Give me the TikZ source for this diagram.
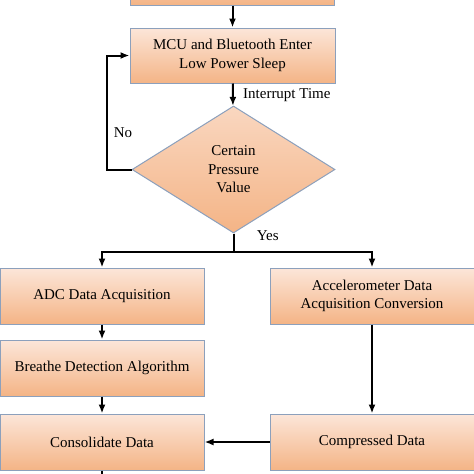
\documentclass[tikz,border=0pt]{standalone}
\usepackage{fontspec}
\setmainfont{Liberation Serif}
\usepackage{tikz}
\usetikzlibrary{arrows.meta, positioning, shapes.geometric}

\definecolor{boxtop}{RGB}{252,230,217}
\definecolor{boxbot}{RGB}{244,180,134}
\definecolor{boxline}{RGB}{140,160,188}

\begin{document}
\begin{tikzpicture}[
		x=1pt, y=1pt,
		font=\fontsize{15}{18.5}\selectfont,
		process/.style={
			rectangle,
			draw=boxline,
			line width=1pt,
			top color=boxtop,
			bottom color=boxbot,
			minimum width=204pt,
			minimum height=56pt,
			align=center
		},
		decision/.style={
			diamond,
			draw=boxline,
			line width=1pt,
			top color=boxtop!70!boxbot,
			bottom color=boxbot,
			minimum width=203pt,
			minimum height=127pt,
			inner sep=0pt,
			align=center
		},
		arrow/.style={
			line width=2pt,
			-{Latex[length=9pt,width=7pt]},
		}
	]
	\useasboundingbox (0,0) rectangle (474,-474);
	
	\node[process, minimum width=205pt, minimum height=55pt] (mcu) at (232.5,-55.5) {MCU and Bluetooth Enter\\Low Power Sleep};
	\node[process, above=22pt of mcu] (start) {};
	\node[decision, below=22pt of mcu, xshift=1pt] (check) {Certain\\Pressure\\Value};
	
	\node[process, below=34pt of check, xshift=-131.5pt] (adc) {ADC Data Acquisition};
	\node[process, right=65pt of adc] (accel) {Accelerometer Data\\Acquisition Conversion};
	\node[process, below=15pt of adc] (breathe) {Breathe Detection Algorithm};
	\node[process, below=17pt of breathe] (merge) {Consolidate Data};
	\node[process, right=65pt of merge] (compress) {Compressed Data};
	\coordinate[below=20pt of merge] (exit);
	
	\draw[arrow] (start) -- (mcu);
	\draw[arrow] (mcu) -- node[right=6pt] {Interrupt Time} (check);
	\draw[arrow] (check.west) -- ++(-25,0) |- node[pos=0.16, right=3pt] {No} (mcu.west);
	\draw[line width=2pt] (check.south) -- node[pos=0.1, right=19pt] {Yes} ++(0,-18);
	\draw[arrow] (check.south) -- ++(0,-18) -| (adc);
	\draw[arrow] (check.south) -- ++(0,-18) -| (accel);
	\draw[arrow] (adc) -- (breathe);
	\draw[arrow] (breathe) -- (merge);
	\draw[arrow] (accel) -- (compress);
	\draw[arrow] (compress) -- (merge);
	\draw[line width=2pt] (merge) -- (exit);
	
\end{tikzpicture}
\end{document}
